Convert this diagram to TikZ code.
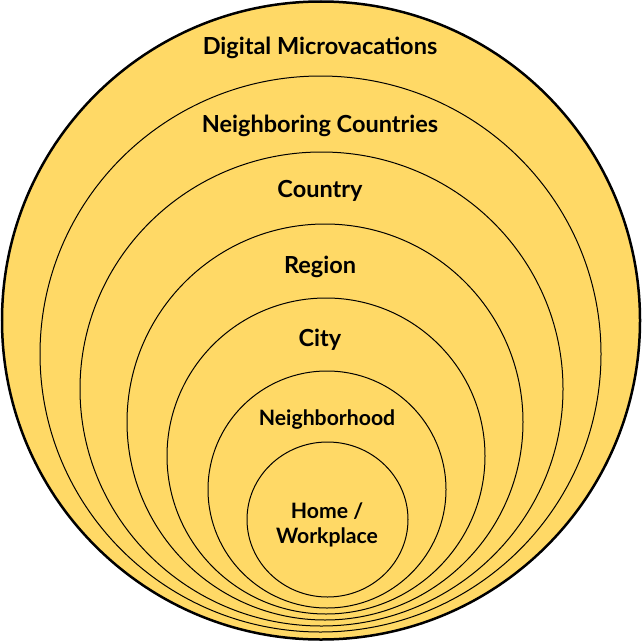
\documentclass[tikz,border=0pt]{standalone}
\usepackage{fontspec}
\setmainfont{Lato}
\definecolor{ringfill}{HTML}{FFD966}
\begin{document}
\begin{tikzpicture}[x=1pt,y=-1pt,
  ring/.style={draw=black, fill=ringfill, line width=1pt},
  lbl/.style={font=\bfseries\fontsize{23.5}{25}\selectfont, inner sep=0pt, anchor=center},
  slbl/.style={font=\bfseries\fontsize{21.2}{23}\selectfont, inner sep=0pt, anchor=center}]
\useasboundingbox (0,0) rectangle (642,642);
\draw[ring, line width=2.5pt] (321,320.5) ellipse [x radius=319, y radius=319];
\draw[ring] (320.5,354) ellipse [x radius=280.5, y radius=278];
\draw[ring] (321.5,389) ellipse [x radius=241.5, y radius=237];
\draw[ring] (325,422) ellipse [x radius=198, y radius=198];
\draw[ring] (326,456) ellipse [x radius=159, y radius=158];
\draw[ring] (327,489.5) ellipse [x radius=119, y radius=118.5];
\draw[ring] (327.5,519.5) ellipse [x radius=80.5, y radius=77.5];
\node[lbl] (digital) at (320,48) {Digital Microvacations};
\node[lbl] (neighc) at (320,126) {Neighboring Countries};
\node[lbl] (country) at (320,191) {Country};
\node[lbl] (region) at (320,267) {Region};
\node[lbl] (city) at (320,340) {City};
\node[slbl] (neighb) at (327,420) {Neighborhood};
\node[slbl] (home) at (327,511) {Home /};
\node[slbl] (work) at (327,537) {Workplace};
\end{tikzpicture}
\end{document}
